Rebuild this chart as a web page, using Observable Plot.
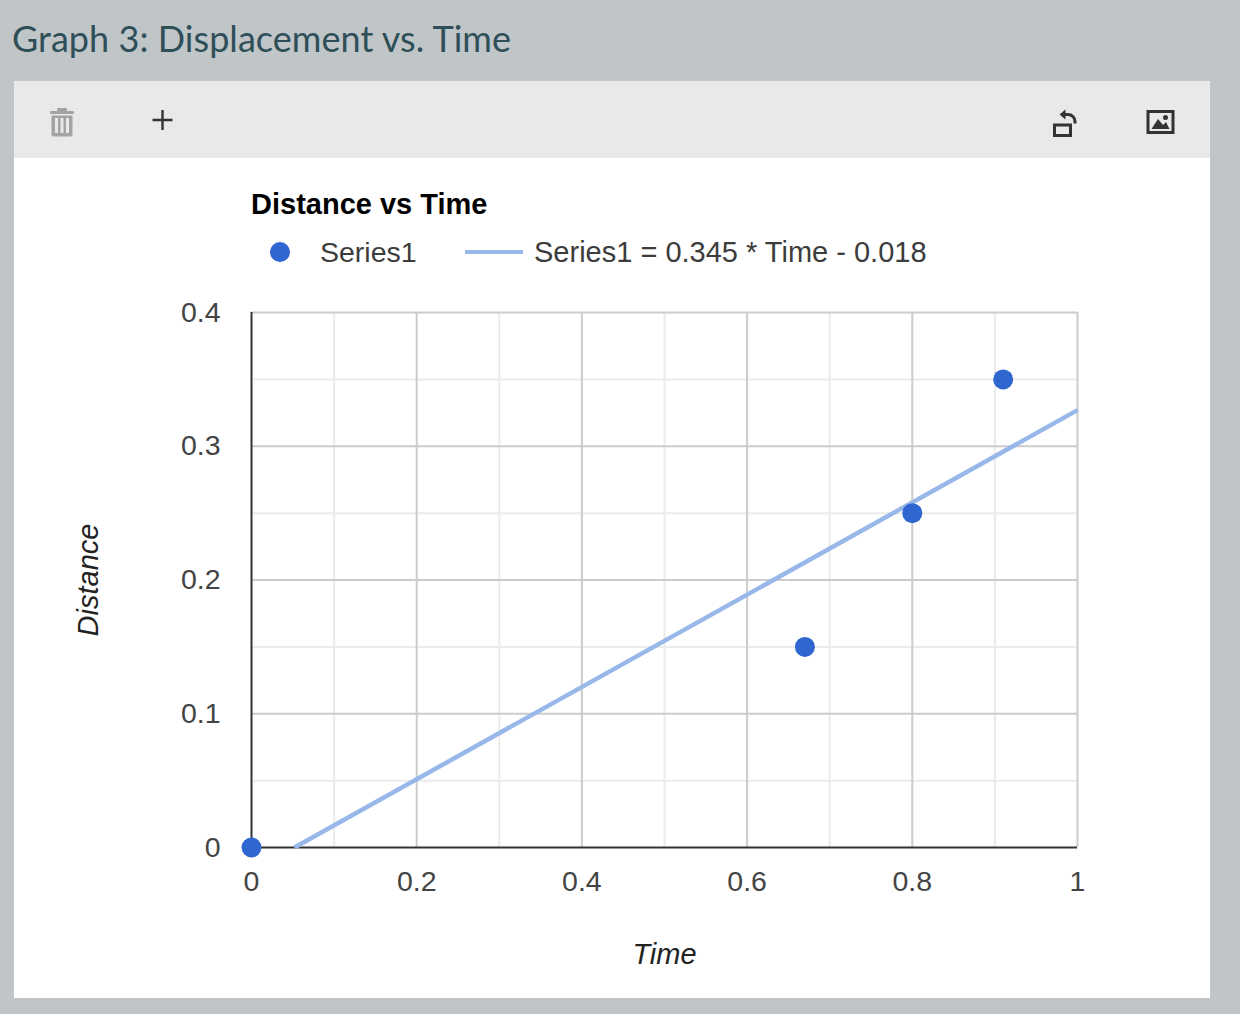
<!DOCTYPE html>
<html>
<head>
<meta charset="utf-8">
<script src="https://cdn.jsdelivr.net/npm/d3@7"></script>
<script src="https://cdn.jsdelivr.net/npm/@observablehq/plot@0.6"></script>
<style>
html,body{margin:0;padding:0;width:1240px;height:1014px;overflow:hidden;background:#c0c5c8;}
#page{position:relative;width:1240px;height:1014px;}
.abs{position:absolute;white-space:nowrap;}
#heading{left:12px;top:15px;font:36px/46px Lato,sans-serif;color:#2f4f58;letter-spacing:0.05px;}
#panel{left:14px;top:81px;width:1196px;height:917px;background:#fff;}
#toolbar{left:14px;top:81px;width:1196px;height:76.500px;background:#e9e9e9;}
#chart{left:14px;top:157px;}
#chart svg{display:block;}
.ct{font-family:"Liberation Sans",Arial,sans-serif;}
#ctitle{left:251px;top:187px;font-size:29px;line-height:34px;font-weight:700;color:#000;}
.leg{top:235px;font-size:29px;line-height:34px;color:#3c3c3c;}
#ldot{left:270px;top:242px;width:20px;height:20px;border-radius:50%;background:#2f66cf;}
#lline{left:465px;top:250px;width:58px;height:4px;background:#98b8ea;}
</style>
</head>
<body>
<div id="page">
  <div class="abs" id="heading">Graph 3: Displacement vs. Time</div>
  <div class="abs" id="panel"></div>
  <div class="abs" id="toolbar"></div>
  <svg class="abs" style="left:0;top:81px" width="1240" height="76" viewBox="0 81 1240 76">
    <g fill="#a3a3a3">
      <rect x="50" y="111" width="24" height="3" rx="1"/>
      <rect x="57" y="108" width="10" height="3" rx="1"/>
      <path d="M51.500 115.500h21v19a2 2 0 0 1-2 2h-17a2 2 0 0 1-2-2z"/>
    </g>
    <g fill="#e9e9e9">
      <rect x="55" y="118" width="3" height="15"/><rect x="60.500" y="118" width="3" height="15"/><rect x="66" y="118" width="3" height="15"/>
    </g>
    <path d="M162.500 110v20M152.500 120h20" stroke="#333" stroke-width="2.400" fill="none"/>
    <rect x="1054.500" y="125" width="16" height="10.500" fill="none" stroke="#333" stroke-width="3"/>
    <path d="M1063 114.500h5a7 7 0 0 1 7 7v2" fill="none" stroke="#333" stroke-width="3"/>
    <path d="M1059.500 114.500l6-5v10z" fill="#333"/>
    <rect x="1148" y="111.500" width="25" height="21" fill="none" stroke="#333" stroke-width="3"/>
    <path d="M1151.500 129l6.500-10 5 6 3-3 3.500 7z" fill="#333"/>
    <circle cx="1165.500" cy="117.500" r="2.500" fill="#333"/>
  </svg>
  <div class="abs" id="chart"></div>
  <div class="abs ct" id="ctitle">Distance vs Time</div>
  <div class="abs" id="ldot"></div>
  <div class="abs ct leg" style="left:320px;font-size:28.500px">Series1</div>
  <div class="abs" id="lline"></div>
  <div class="abs ct leg" style="left:534px">Series1 = 0.345 * Time - 0.018</div>
</div>
<script>
const pointTime = [0, 0.67, 0.8, 0.91];
const pointDistance = [0, 0.15, 0.25, 0.35];
const trendTime = [0.052, 1];
const trendDistance = [0, 0.327];
const xMajor = [0, 0.2, 0.4, 0.6, 0.8, 1];
const xMinor = [0.1, 0.3, 0.5, 0.7, 0.9];
const yMajor = [0, 0.1, 0.2, 0.3, 0.4];
const yMinor = [0.05, 0.15, 0.25, 0.35];

const chart = Plot.plot({
  width: 1196,
  height: 841,
  marginLeft: 237,
  marginRight: 133,
  marginTop: 155,
  marginBottom: 151,
  style: {background: "transparent", fontFamily: '"Liberation Sans",Arial,sans-serif', fontSize: "28.500px", overflow: "visible"},
  x: {domain: [0, 1]},
  y: {domain: [0, 0.4]},
  marks: [
    Plot.ruleX(xMinor, {stroke: "#ebebeb", strokeWidth: 2}),
    Plot.ruleY(yMinor, {stroke: "#ebebeb", strokeWidth: 2}),
    Plot.ruleX(xMajor.slice(1), {stroke: "#cccccc", strokeWidth: 2}),
    Plot.ruleY(yMajor.slice(1), {stroke: "#cccccc", strokeWidth: 2}),
    Plot.ruleX([0], {stroke: "#333333", strokeWidth: 2}),
    Plot.ruleY([0], {stroke: "#333333", strokeWidth: 2}),
    Plot.axisX({
      ticks: xMajor, tickSize: 0, tickPadding: 23, tickFormat: d => String(d),
      color: "#444", label: "Time", labelAnchor: "center", labelArrow: "none", labelOffset: 116
    }),
    Plot.axisY({
      ticks: yMajor, tickSize: 0, tickPadding: 31, tickFormat: d => String(d),
      color: "#444", label: "Distance", labelAnchor: "center", labelArrow: "none", labelOffset: 174
    }),
    Plot.line(trendTime.map((t, i) => ({t, d: trendDistance[i]})), {x: "t", y: "d", stroke: "#98b8ea", strokeWidth: 4.500, strokeLinecap: "butt"}),
    Plot.dot(pointTime.map((t, i) => ({t, d: pointDistance[i]})), {x: "t", y: "d", r: 10, fill: "#2f66cf", stroke: "none"})
  ]
});
d3.select(chart).selectAll("[aria-label='x-axis label'] text, [aria-label='y-axis label'] text")
  .style("font-style", "italic").style("fill", "#222").style("font-size", "29px");
document.getElementById("chart").appendChild(chart);
</script>
</body>
</html>
